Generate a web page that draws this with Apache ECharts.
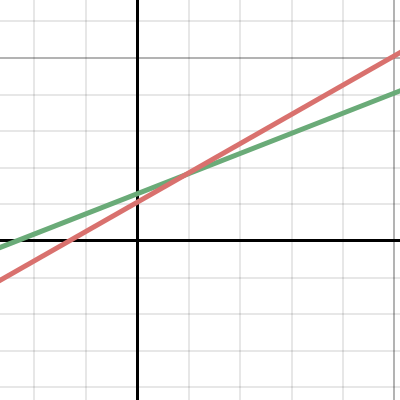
<!DOCTYPE html>
<html>
<head>
<meta charset="utf-8">
<script src="https://cdn.jsdelivr.net/npm/echarts@6/dist/echarts.min.js"></script>
<style>
html,body{margin:0;padding:0;background:#fff;overflow:hidden;}
#c{width:400px;height:400px;}
</style>
</head>
<body>
<div id="c"></div>
<script>
// Data (line endpoints at x = -3 and x = 6)
var xPoints = [-3, 6];
var redValues = [-1.35, 5.85];
var greenValues = [-0.37, 4.58];
// Grid lines (units of the graph)
var minorX = [-2, -1, 1, 2, 3, 4];
var minorY = [-4, -3, -2, -1, 1, 2, 3, 4, 6];
var majorX = [5];
var majorY = [5];
// Visible window
var xRange = [-2.664, 5.114];
var yRange = [-4.352, 6.577];

var chart = echarts.init(document.getElementById('c'), null, {renderer: 'canvas'});

function pairs(xs, ys){ return xs.map(function(x,i){ return [x, ys[i]]; }); }
function vLines(xs){ return xs.map(function(v){ return {xAxis: v}; }); }
function hLines(ys){ return ys.map(function(v){ return {yAxis: v}; }); }

var hiddenAxis = {
  type: 'value',
  axisLine: {show: true, onZero: true, lineStyle: {color: '#000', width: 3}},
  axisTick: {show: false}, axisLabel: {show: false},
  splitLine: {show: false}
};

chart.setOption({
  animation: false,
  backgroundColor: '#ffffff',
  grid: {left: 0, right: 0, top: 0, bottom: 0, containLabel: false, outerBoundsMode: 'none'},
  xAxis: Object.assign({}, hiddenAxis, {min: xRange[0], max: xRange[1], z: 5}),
  yAxis: Object.assign({}, hiddenAxis, {min: yRange[0], max: yRange[1], z: 5}),
  series: [
    {
      type: 'line', data: [], silent: true, z: 1,
      markLine: {
        silent: true, symbol: 'none', label: {show: false}, animation: false,
        lineStyle: {color: 'rgba(0,0,0,0.13)', width: 1.5, type: 'solid'},
        data: vLines(minorX).concat(hLines(minorY))
      }
    },
    {
      type: 'line', data: [], silent: true, z: 1,
      markLine: {
        silent: true, symbol: 'none', label: {show: false}, animation: false,
        lineStyle: {color: 'rgba(0,0,0,0.4)', width: 1.5, type: 'solid'},
        data: vLines(majorX).concat(hLines(majorY))
      }
    },
    {
      name: 'green', type: 'line', data: pairs(xPoints, greenValues),
      showSymbol: false, symbol: 'none', clip: true,
      lineStyle: {color: '#6aab78', width: 5}, z: 6
    },
    {
      name: 'red', type: 'line', data: pairs(xPoints, redValues),
      showSymbol: false, symbol: 'none', clip: true,
      lineStyle: {color: '#d9716e', width: 5}, z: 7
    }
  ]
});
</script>
</body>
</html>
